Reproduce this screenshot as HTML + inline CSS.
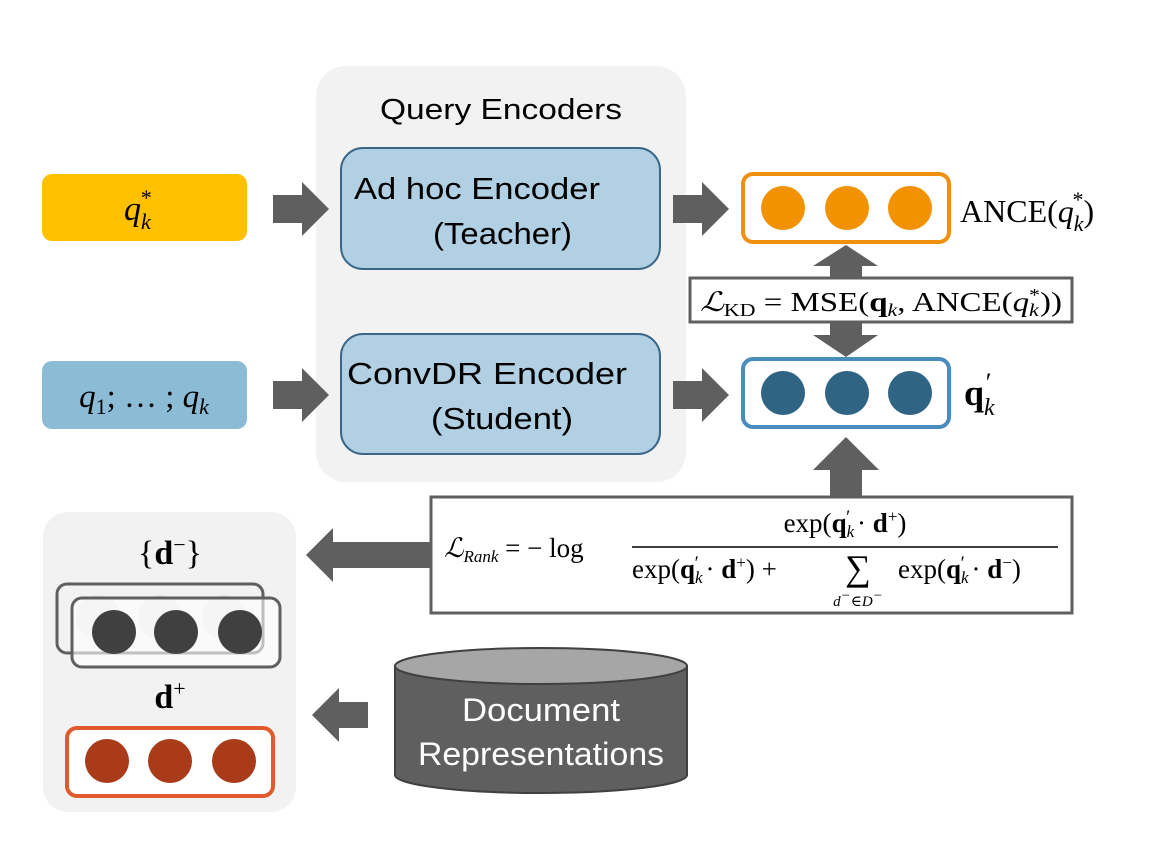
<!DOCTYPE html>
<html><head><meta charset="utf-8"><style>
html,body{margin:0;padding:0;background:#fff}
svg{display:block}
.s{font-family:"Liberation Sans",sans-serif}
.m{font-family:"Liberation Serif","DejaVu Serif",serif}
</style></head><body>
<svg width="1151" height="857" viewBox="0 0 1151 857" xmlns="http://www.w3.org/2000/svg">
<rect width="1151" height="857" fill="#fff"/>
<rect x="316" y="66" width="370" height="416" rx="30" fill="#f2f2f2"/>
<text x="380" y="119" class="s" font-size="29" textLength="242" lengthAdjust="spacingAndGlyphs">Query Encoders</text>
<rect x="341" y="148" width="319" height="121" rx="22" fill="#b1d0e3" stroke="#3a6788" stroke-width="2"/>
<text x="354" y="199" class="s" font-size="31" textLength="246" lengthAdjust="spacingAndGlyphs">Ad hoc Encoder</text>
<text x="433" y="244" class="s" font-size="31" textLength="139" lengthAdjust="spacingAndGlyphs">(Teacher)</text>
<rect x="341" y="334" width="319" height="120" rx="22" fill="#b1d0e3" stroke="#3a6788" stroke-width="2"/>
<text x="347" y="384" class="s" font-size="31" textLength="280" lengthAdjust="spacingAndGlyphs">ConvDR Encoder</text>
<text x="431" y="429" class="s" font-size="31" textLength="142" lengthAdjust="spacingAndGlyphs">(Student)</text>
<rect x="42" y="174" width="205" height="67" rx="10" fill="#ffc000"/>
<text x="124" y="220" class="m" font-size="34" font-style="italic">q<tspan font-size="22" dy="9">k</tspan><tspan font-size="22" dx="-11" dy="-24">*</tspan></text>
<rect x="42" y="361" width="205" height="68" rx="10" fill="#8cbbd6"/>
<text x="144" y="407" class="m" font-size="33" text-anchor="middle"><tspan font-style="italic">q</tspan><tspan font-size="22" dy="7">1</tspan><tspan dy="-7">; … ; </tspan><tspan font-style="italic">q</tspan><tspan font-size="22" dy="7" font-style="italic">k</tspan></text>
<g fill="#5f5f5f">
<polygon points="273,195 302,195 302,182 329,209 302,236 302,223 273,223"/>
<polygon points="273,381 302,381 302,368 329,395 302,422 302,409 273,409"/>
<polygon points="673,195 702,195 702,182 729,209 702,236 702,223 673,223"/>
<polygon points="673,381 702,381 702,368 729,395 702,422 702,409 673,409"/>
<polygon points="846,245 878,266 862,266 862,335 878,335 846,357 813,335 830,335 830,266 813,266"/>
<polygon points="846,437 879,470 862,470 862,498 830,498 830,470 813,470"/>
<polygon points="306,555 333,528 333,542 431,542 431,568 333,568 333,582"/>
<polygon points="312,715 339,688 339,702 368,702 368,728 339,728 339,742"/>
</g>
<rect x="743" y="174" width="206" height="68" rx="10" fill="#fff" stroke="#f0900c" stroke-width="4"/>
<circle cx="783" cy="208" r="22" fill="#f39200"/><circle cx="847" cy="208" r="22" fill="#f39200"/><circle cx="910" cy="208" r="22" fill="#f39200"/>
<text x="960" y="222" class="m" font-size="32">ANCE(<tspan font-style="italic">q</tspan><tspan font-size="22" font-style="italic" dy="9">k</tspan><tspan font-size="22" dx="-11" dy="-24">*</tspan><tspan dy="15">)</tspan></text>
<rect x="690" y="278" width="382" height="44" fill="#fff" stroke="#5f5f5f" stroke-width="3"/>
<text x="700" y="311" class="m" font-size="27" textLength="362" lengthAdjust="spacingAndGlyphs"><tspan font-style="italic">ℒ</tspan><tspan font-size="18" dy="5">KD</tspan><tspan dy="-5"> = MSE(</tspan><tspan font-weight="bold">q</tspan><tspan font-size="18" font-style="italic" dy="5">k</tspan><tspan dy="-5">, ANCE(</tspan><tspan font-style="italic">q</tspan><tspan font-size="18" font-style="italic" dy="5">k</tspan><tspan font-size="18" dx="-8" dy="-15">*</tspan><tspan dy="10">))</tspan></text>
<rect x="743" y="359" width="206" height="68" rx="10" fill="#fff" stroke="#4a8cbc" stroke-width="4"/>
<circle cx="783" cy="393" r="22" fill="#2f6484"/><circle cx="847" cy="393" r="22" fill="#2f6484"/><circle cx="910" cy="393" r="22" fill="#2f6484"/>
<text x="964" y="405" class="m" font-size="36" font-weight="bold">q<tspan font-size="24" font-weight="normal" font-style="italic" dy="10">k</tspan><tspan font-size="26" font-weight="normal" dx="-9" dy="-24">′</tspan></text>
<rect x="431" y="497" width="641" height="116" fill="#fff" stroke="#5f5f5f" stroke-width="3"/>
<text x="444" y="557" class="m" font-size="27"><tspan font-style="italic">ℒ</tspan><tspan font-size="17" font-style="italic" dy="5">Rank</tspan><tspan dy="-5"> = − log</tspan></text>
<line x1="632" y1="547" x2="1058" y2="547" stroke="#000" stroke-width="1.5"/>
<text x="845" y="532" class="m" font-size="27" text-anchor="middle">exp(<tspan font-weight="bold">q</tspan><tspan font-size="17" font-style="italic" dy="5">k</tspan><tspan font-size="19" dx="-8" dy="-14">′</tspan><tspan dy="9"> · </tspan><tspan font-weight="bold">d</tspan><tspan font-size="17" dy="-10">+</tspan><tspan dy="10">)</tspan></text>
<text x="632" y="578" class="m" font-size="27">exp(<tspan font-weight="bold">q</tspan><tspan font-size="17" font-style="italic" dy="5">k</tspan><tspan font-size="19" dx="-8" dy="-14">′</tspan><tspan dy="9"> · </tspan><tspan font-weight="bold">d</tspan><tspan font-size="17" dy="-10">+</tspan><tspan dy="10">) +</tspan></text>
<text x="858" y="580" class="m" font-size="36" text-anchor="middle">∑</text>
<text x="858" y="606" class="m" font-size="15" font-style="italic" text-anchor="middle">d<tspan dy="-6">−</tspan><tspan dy="6">∈D</tspan><tspan dy="-6">−</tspan></text>
<text x="898" y="578" class="m" font-size="27">exp(<tspan font-weight="bold">q</tspan><tspan font-size="17" font-style="italic" dy="5">k</tspan><tspan font-size="19" dx="-8" dy="-14">′</tspan><tspan dy="9"> · </tspan><tspan font-weight="bold">d</tspan><tspan font-size="17" dy="-10">−</tspan><tspan dy="10">)</tspan></text>
<rect x="43" y="512" width="253" height="300" rx="25" fill="#f2f2f2"/>
<text x="170" y="564" class="m" font-size="34" text-anchor="middle">{<tspan font-weight="bold">d</tspan><tspan font-size="22" dy="-12">−</tspan><tspan dy="12">}</tspan></text>
<rect x="57" y="584" width="206" height="69" rx="10" fill="#f2f2f2" stroke="#5f5f5f" stroke-width="3"/>
<circle cx="98" cy="617" r="22" fill="#e6e6e6"/><circle cx="160" cy="617" r="22" fill="#e6e6e6"/><circle cx="224" cy="617" r="22" fill="#e6e6e6"/>
<rect x="72" y="598" width="208" height="69" rx="10" fill="#fff" fill-opacity="0.6" stroke="#5f5f5f" stroke-width="3"/>
<circle cx="114" cy="632" r="22" fill="#404040"/><circle cx="176" cy="632" r="22" fill="#404040"/><circle cx="240" cy="632" r="22" fill="#404040"/>
<text x="170" y="708" class="m" font-size="34" font-weight="bold" text-anchor="middle">d<tspan font-size="22" font-weight="normal" dy="-12">+</tspan></text>
<rect x="67" y="728" width="206" height="68" rx="10" fill="#fff" stroke="#e05a2b" stroke-width="4"/>
<circle cx="107" cy="761" r="22" fill="#a93b1a"/><circle cx="170" cy="761" r="22" fill="#a93b1a"/><circle cx="234" cy="761" r="22" fill="#a93b1a"/>
<path d="M395,666 L395,775 A146,18 0 0 0 687,775 L687,666 Z" fill="#5f5f5f" stroke="#404040" stroke-width="2"/>
<ellipse cx="541" cy="666" rx="146" ry="18" fill="#a6a6a6" stroke="#404040" stroke-width="2"/>
<text x="541" y="721" class="s" font-size="32" fill="#fff" text-anchor="middle" textLength="158" lengthAdjust="spacingAndGlyphs">Document</text>
<text x="541" y="765" class="s" font-size="32" fill="#fff" text-anchor="middle" textLength="246" lengthAdjust="spacingAndGlyphs">Representations</text>
</svg>
</body></html>
